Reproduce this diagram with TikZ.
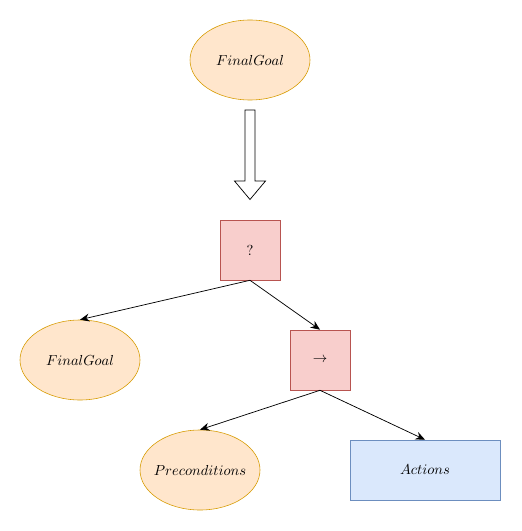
\documentclass[tikz,border=0pt]{standalone}
\usetikzlibrary{arrows.meta,shapes.geometric}
\definecolor{orfill}{HTML}{FFE6CC}
\definecolor{ordraw}{HTML}{D79B00}
\definecolor{rdfill}{HTML}{F8CECC}
\definecolor{rddraw}{HTML}{B85450}
\definecolor{blfill}{HTML}{DAE8FC}
\definecolor{bldraw}{HTML}{6C8EBF}
\begin{document}
\begin{tikzpicture}[x=0.69pt,y=-0.69pt,
  goal/.style={ellipse,draw=ordraw,fill=orfill,minimum width=120*0.69pt,minimum height=80*0.69pt,inner sep=0pt,inner xsep=-10pt},
  ctrl/.style={rectangle,draw=rddraw,fill=rdfill,minimum width=60*0.69pt,minimum height=60*0.69pt,inner sep=0pt},
  act/.style={rectangle,draw=bldraw,fill=blfill,minimum width=150*0.69pt,minimum height=60*0.69pt,inner sep=0pt},
  edge/.style={draw=black,line width=0.5pt,-{Stealth[length=6.5pt,width=5.5pt]}}]
\useasboundingbox (0,0) rectangle (521,531);
\node[goal] (top) at (250,60) {$FinalGoal$};
\node[ctrl] (fb) at (250,250) {$?$};
\node[goal] (left) at (80,360) {$FinalGoal$};
\node[ctrl] (seq) at (320,360) {$\rightarrow$};
\node[goal] (pre) at (200,470) {$Preconditions$};
\node[act] (acts) at (425,470) {$Actions$};
\draw[line width=0.5pt,fill=white] (245,110) -- (255,110) -- (255,181) -- (265.5,181) -- (250,199.5) -- (234.5,181) -- (245,181) -- cycle;
\draw[edge] (fb.south) -- (left.north);
\draw[edge] (fb.south) -- (seq.north);
\draw[edge] (seq.south) -- (pre.north);
\draw[edge] (seq.south) -- (acts.north);
\end{tikzpicture}
\end{document}
